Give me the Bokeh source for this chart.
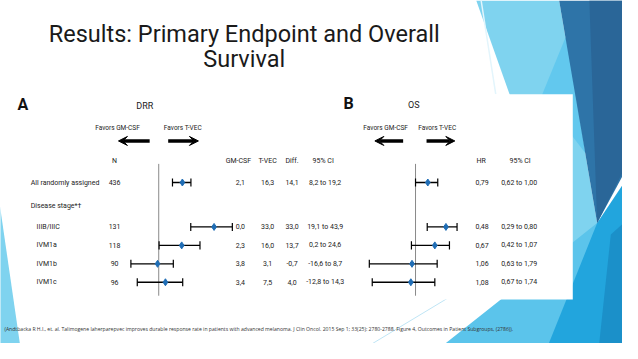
from bokeh.plotting import figure
from bokeh.models import Range1d, Arrow, VeeHead, ColumnDataSource
from bokeh.core.properties import value
from bokeh.embed import file_html
from bokeh.resources import INLINE

# ---------------- data ----------------
title_lines = ["Results: Primary Endpoint and Overall", "Survival"]
panel_a_title = "DRR"
panel_b_title = "OS"
favors_left = "Favors GM-CSF"
favors_right = "Favors T-VEC"

subgroups = ["All randomly assigned", "IIIB/IIIC", "IVM1a", "IVM1b", "IVM1c"]
stage_header = "Disease stage*\u2020"
n_patients = [436, 131, 118, 90, 96]

drr_gmcsf = [2.1, 0.0, 2.3, 3.8, 3.4]
drr_tvec = [16.3, 33.0, 16.0, 3.1, 7.5]
drr_diff = [14.1, 33.0, 13.7, -0.7, 4.0]
drr_lo = [8.2, 19.1, 0.2, -16.6, -12.8]
drr_hi = [19.2, 43.9, 24.6, 8.7, 14.3]

os_hr = [0.79, 0.48, 0.67, 1.06, 1.08]
os_lo = [0.62, 0.29, 0.42, 0.63, 0.67]
os_hi = [1.00, 0.80, 1.07, 1.79, 1.74]

headers_a = ["N", "GM-CSF", "T-VEC", "Diff.", "95% CI"]
headers_b = ["HR", "95% CI"]

citation = ("(Andtbacka R H.I., et. al. Talimogene laherparepvec improves durable response rate "
            "in patients with advanced melanoma. J Clin Oncol. 2015 Sep 1; 33(25): 2780-2788. "
            "Figure 4, Outcomes in Patient Subgroups, (2786)).")

# ---------------- layout constants (slide pixel space) ----------------
X0, X1, Y0, Y1 = 0, 638, 0, 359
ZERO_A, PPU_A = 162.3, 1.72      # DRR difference scale
ZERO_B, PPU_B = 425.7, 60.0      # OS hazard-ratio scale (reversed)

FF = "Roboto"
TF = "Roboto"
FS = "7px"

def fmt(v, d=1):
    return f"{v:.{d}f}".replace(".", ",")

# row y positions
ROW_FIRST = 190.5
ROW_SUB0 = 237.0
ROW_STEP = 19.3
row_y = [ROW_FIRST] + [ROW_SUB0 + i * ROW_STEP for i in range(len(subgroups) - 1)]
HEAD_Y = 168.5
STAGE_Y = 215.0
CAP = 4.2

p = figure(width=622, height=343,
           x_range=Range1d(X0, X1), y_range=Range1d(Y1, Y0),
           x_axis_location=None, y_axis_location=None,
           output_backend="svg", toolbar_location=None, min_border=0)
p.grid.visible = False
p.outline_line_color = None
p.background_fill_color = "white"
p.border_fill_color = "white"

p.extra_x_ranges = {
    "drr": Range1d((X0 - ZERO_A) / PPU_A, (X1 - ZERO_A) / PPU_A),
    "os": Range1d(1 - (X0 - ZERO_B) / PPU_B, 1 - (X1 - ZERO_B) / PPU_B),
}

# ---------------- slide decoration ----------------
deco = [
    ([488, 573, 612, 597], [0, 0, 233, 313], "#7fd3ef"),
    ([581, 600, 555], [35, 160, 100], "#62c8ee"),
    ([612, 640, 640, 455], [233, 200, 360, 360], "#5bc4eb"),
    ([612, 640, 640, 562], [233, 190, 360, 360], "#22a5dd"),
    ([626, 640, 640, 614], [245, 232, 360, 360], "#1b90c9"),
    ([573, 640, 640, 612], [0, 0, 180, 233], "#2e74a8"),
    ([604, 640, 640, 612], [0, 0, 176, 233], "#2a6698"),
]
p.patches([d[0] for d in deco], [d[1] for d in deco],
          fill_color=[d[2] for d in deco], line_color=None)
p.line([493, 508], [0, 98], line_color="#e3f5fc", line_width=1.5)
p.line([380, 458], [360, 312], line_color="#bfe5f5", line_width=1)

# white picture box
p.quad(left=[14], right=[587], top=[98], bottom=[313], fill_color="white", line_color=None)
# left triangle
p.patch([-2, 20, -2], [205, 360, 360], fill_color="#7fd3ef", line_color=None)

# ---------------- title ----------------
p.text(x=[250, 250], y=[35, 61], text=title_lines, text_font=value(TF),
       text_font_size="23.5px", text_align="center", text_baseline="middle", text_color="#1a1a1a")

# ---------------- panel headings ----------------
p.text(x=[23, 357], y=[109, 108], text=["A", "B"], text_font=value(FF), text_font_style="bold",
       text_font_size="16px", text_align="center", text_baseline="middle", text_color="#111")
p.text(x=[148, 424], y=[110, 109], text=[panel_a_title, panel_b_title], text_font=value(FF),
       text_font_size="9px", text_align="center", text_baseline="middle", text_color="#222")
p.text(x=[120, 187, 395, 448], y=[133] * 4,
       text=[favors_left, favors_right, favors_left, favors_right], text_font=value(FF),
       text_font_size="6.5px", text_align="center", text_baseline="middle", text_color="#222")
for xs, xe in [(153, 121), (172, 203), (413, 384), (437, 466)]:
    p.add_layout(Arrow(end=VeeHead(size=9, fill_color="black", line_color="black", line_width=1),
                       x_start=xs, y_start=147, x_end=xe, y_end=147,
                       line_width=3.5, line_color="black"))

# ---------------- column headers ----------------
p.text(x=[117, 244, 274, 299, 331, 493, 533], y=[HEAD_Y] * 7, text=headers_a + headers_b,
       text_font=value(FF), text_font_size=FS, text_align="center", text_baseline="middle",
       text_color="#222")

# ---------------- row labels ----------------
lab_x = [31] + [37] * (len(subgroups) - 1)
p.text(x=lab_x + [31], y=row_y + [STAGE_Y], text=subgroups + [stage_header], text_font=value(FF),
       text_font_size=FS, text_align="left", text_baseline="middle", text_color="#222")

# ---------------- value columns ----------------
src = ColumnDataSource(dict(
    y=row_y, yt=[y - CAP for y in row_y], yb=[y + CAP for y in row_y],
    n=[str(v) for v in n_patients],
    gm=[fmt(v) for v in drr_gmcsf], tv=[fmt(v) for v in drr_tvec], df=[fmt(v) for v in drr_diff],
    ci_a=[f"{fmt(a)} to {fmt(b)}" for a, b in zip(drr_lo, drr_hi)],
    hr_t=[fmt(v, 2) for v in os_hr],
    ci_b=[f"{fmt(a, 2)} to {fmt(b, 2)}" for a, b in zip(os_lo, os_hi)],
    diff=drr_diff, lo=drr_lo, hi=drr_hi,
    hr=os_hr, hlo=os_lo, hhi=os_hi,
))
for col, cx in [("n", 117), ("gm", 246), ("tv", 274), ("df", 299), ("ci_a", 333),
                ("hr_t", 494), ("ci_b", 532)]:
    p.text(x=cx, y="y", text=col, source=src, text_font=value(FF), text_font_size=FS,
           text_align="center", text_baseline="middle", text_color="#222")

# ---------------- reference lines ----------------
p.segment(x0=[0], x1=[0], y0=[171], y1=[309], x_range_name="drr", line_color="#8a8a8a", line_width=1)
p.segment(x0=[1], x1=[1], y0=[171], y1=[309], x_range_name="os", line_color="#8a8a8a", line_width=1)

# ---------------- forest marks ----------------
for rng, c, lo, hi in [("drr", "diff", "lo", "hi"), ("os", "hr", "hlo", "hhi")]:
    p.segment(x0=lo, x1=hi, y0="y", y1="y", source=src, x_range_name=rng,
              line_color="black", line_width=1.3)
    p.segment(x0=lo, x1=lo, y0="yt", y1="yb", source=src, x_range_name=rng,
              line_color="black", line_width=1.2)
    p.segment(x0=hi, x1=hi, y0="yt", y1="yb", source=src, x_range_name=rng,
              line_color="black", line_width=1.2)
    p.scatter(x=c, y="y", source=src, x_range_name=rng, marker="diamond", size=7,
              fill_color="#1f6db5", line_color="#1f6db5")

# ---------------- citation ----------------
p.text(x=[4], y=[344], text=[citation], text_font=value("Open Sans"), text_font_size="5.1px",
       text_align="left", text_baseline="middle", text_color="#333")

open("out.html", "w").write(file_html(p, INLINE))
